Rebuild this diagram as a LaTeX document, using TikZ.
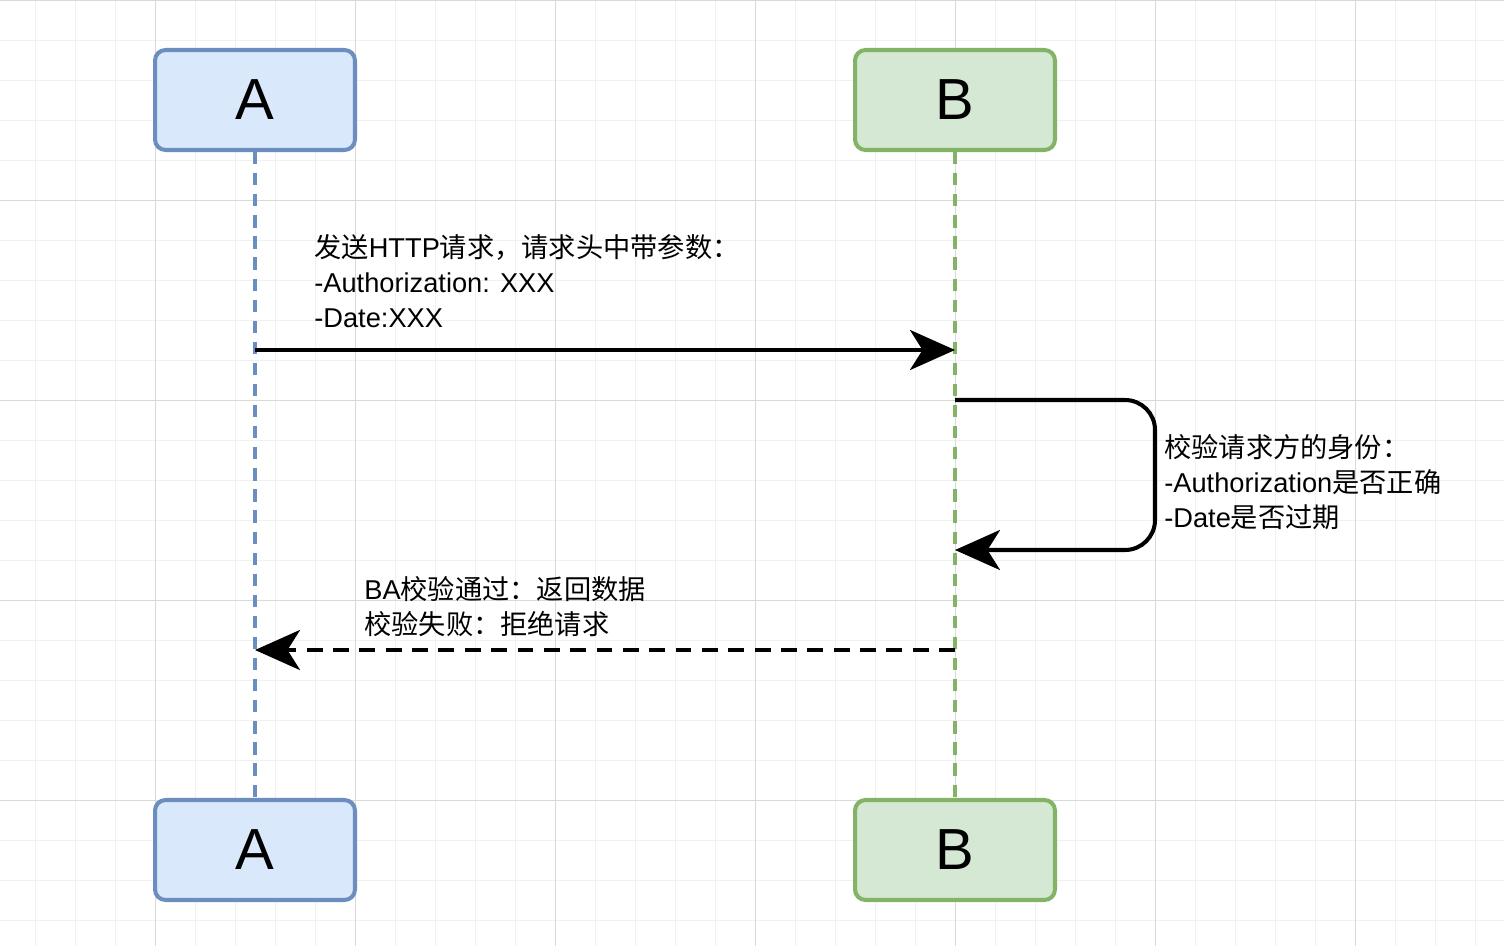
\documentclass[tikz,border=0pt]{standalone}
\usepackage{fontspec}
\setmainfont{Liberation Sans}
\newfontfamily\cjk{Noto Sans CJK SC}
\newcommand{\zh}[1]{{\cjk #1}}
\usetikzlibrary{arrows.meta}
\definecolor{bfill}{HTML}{DAE8FC}\definecolor{bline}{HTML}{6C8EBF}
\definecolor{gfill}{HTML}{D5E8D4}\definecolor{gline}{HTML}{82B366}
\begin{document}
\begin{tikzpicture}[x=0.02cm,y=-0.02cm,
 actA/.style={draw=bline,fill=bfill,line width=2.3pt,rounded corners=6pt,minimum width=4cm,minimum height=2cm,font=\fontsize{33}{33}\selectfont},
 actB/.style={actA,draw=gline,fill=gfill},
 life/.style={line width=1.8pt,dash pattern=on 7pt off 5pt},
 msg/.style={line width=2.3pt,-{Stealth[length=0.9cm,width=0.8cm,inset=0.25cm]}},
 lbl/.style={anchor=north west,align=left,inner sep=0pt,font=\fontsize{15.5}{20}\selectfont}]
\useasboundingbox (0,0) rectangle (1504,946);
\fill[white] (0,0) rectangle (1504,946);
\foreach \x in {-5,35,...,1504} \draw[black!6,line width=0.5pt] (\x,0)--(\x,946);
\foreach \y in {0,40,...,946} \draw[black!6,line width=0.5pt] (0,\y)--(1504,\y);
\foreach \x in {155,355,...,1504} \draw[black!15,line width=0.5pt] (\x,0)--(\x,946);
\foreach \y in {0,200,...,946} \draw[black!15,line width=0.5pt] (0,\y)--(1504,\y);
\node[actA] (a1) at (255,100) {A};
\node[actB] (b1) at (955,100) {B};
\node[actA] (a2) at (255,850) {A};
\node[actB] (b2) at (955,850) {B};
\draw[bline,life] (a1.south)--(a2.north);
\draw[gline,life] (b1.south)--(b2.north);
\coordinate (m1s) at (255,350); \coordinate (m1e) at (955,350);
\draw[msg] (m1s)--(m1e);
\node[lbl] (t1) at (314,234) {\zh{发送}HTTP\zh{请求，请求头中带参数：}\\-Authorization: XXX\\-Date:XXX};
\coordinate (s1) at (955,400); \coordinate (s2) at (955,550);
\draw[msg,rounded corners=0.6cm] (s1)--(1155,400)--(1155,550)--(s2);
\node[lbl] (t2) at (1164,434) {\zh{校验请求方的身份：}\\-Authorization\zh{是否正确}\\-Date\zh{是否过期}};
\coordinate (r1) at (955,650); \coordinate (r2) at (255,650);
\draw[msg,dash pattern=on 9pt off 6pt] (r1)--(r2);
\node[lbl] (t3) at (364,576) {BA\zh{校验通过：返回数据}\\\zh{校验失败：拒绝请求}};
\end{tikzpicture}
\end{document}
